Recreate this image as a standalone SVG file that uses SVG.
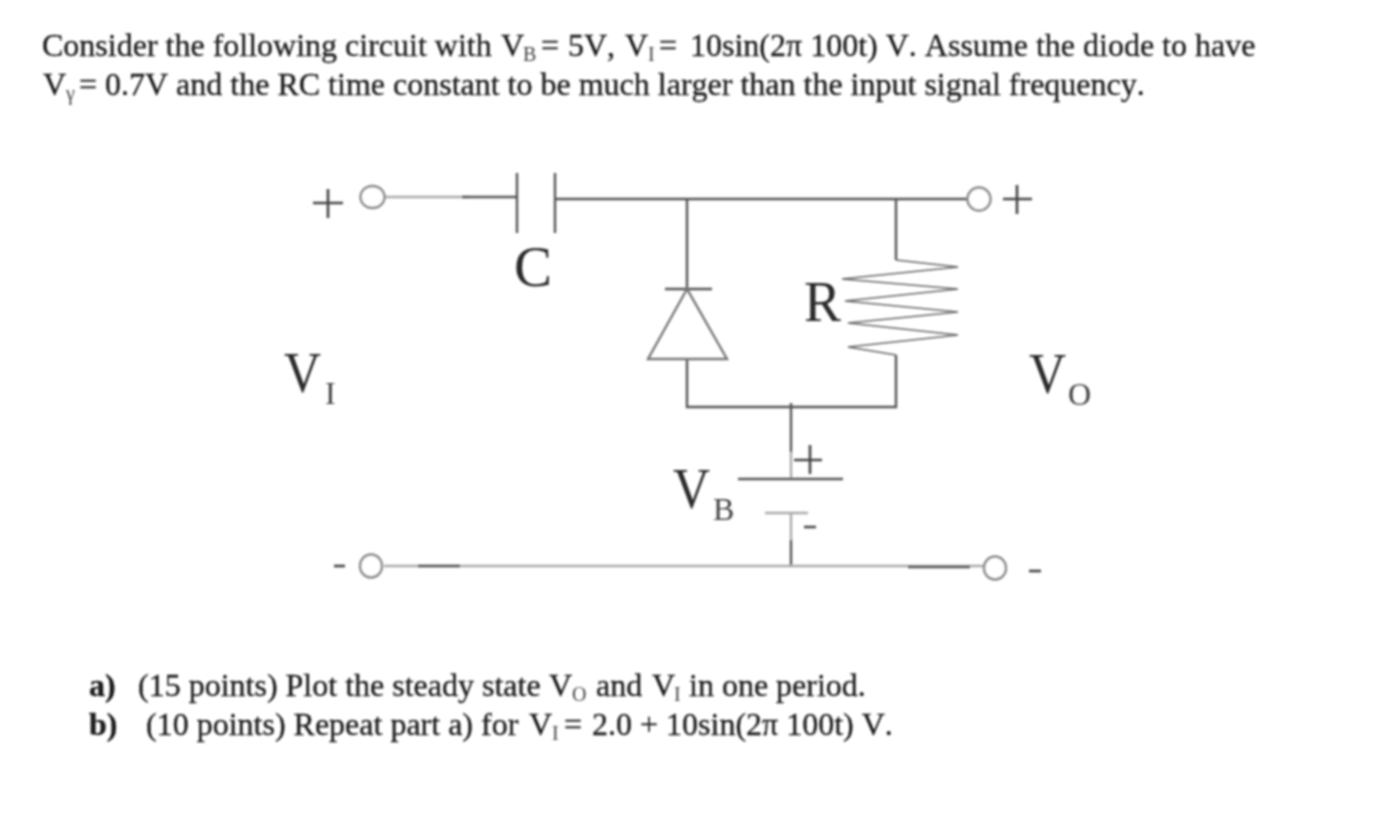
<svg xmlns="http://www.w3.org/2000/svg" width="1378" height="828" viewBox="0 0 1378 828">
<style>
text{font-family:"Liberation Serif","Times New Roman",serif;fill:#1a1a1a;font-kerning:none}
.t{font-size:32px;stroke:#1a1a1a;stroke-width:.3}
.s{font-size:20px;stroke:none;fill:#444}
.b{font-weight:bold}
.l{font-size:56px;fill:#2a2a2a}
.ls{font-size:32px;fill:#444}
.w{fill:none;stroke:#555;stroke-width:2.4}
.lt{fill:none;stroke:#aaa;stroke-width:2.4}
.o{fill:#fff;stroke:#888;stroke-width:2.4}
.z{fill:none;stroke:#666;stroke-width:1.6}
.k{fill:none;stroke:#444;stroke-width:2.6}
</style>
<defs><filter id="bl" x="-5%" y="-5%" width="110%" height="110%"><feGaussianBlur stdDeviation="0.8"/></filter></defs>
<rect width="1378" height="828" fill="#fff"/>
<g filter="url(#bl)">
<g id="question">
<text class="t" y="56"><tspan x="42">Consider the following circuit with</tspan><tspan x="501">V</tspan><tspan class="s" x="523" y="61">B</tspan><tspan x="541" y="56">=</tspan><tspan x="568">5V,</tspan><tspan x="625">V</tspan><tspan class="s" x="648" y="61">I</tspan><tspan x="659" y="56">=</tspan><tspan x="690">10sin(2π 100t) V. Assume the diode to have</tspan></text>
<text class="t" y="95"><tspan x="43">V</tspan><tspan class="s" x="66" y="100">γ</tspan><tspan x="79" y="95">=</tspan><tspan x="105">0.7V and the RC time constant to be much larger than the input signal frequency.</tspan></text>
</g>
<g id="connectors">
<path class="lt" d="M384 197H470"/>
<path class="w" d="M462 197H517M555 199H968M687 199V289M687 359V407H896V355M896 199V260M791 403V452"/>
<path class="lt" d="M791 452V479M791 513V540"/>
<path class="w" d="M791 540V566"/>
<path class="lt" d="M384 566H985"/>
<path class="w" d="M418 566H460M908 567H970"/>
</g>
<g id="terminal-in-plus"><ellipse class="o" cx="372.500" cy="197" rx="12" ry="11"/><path class="k" d="M313 203H343M328 189V218"/></g>
<g id="terminal-out-plus"><circle class="o" cx="979" cy="199" r="11.500"/><path class="k" d="M1003 199H1032M1017 185V214"/></g>
<g id="terminal-in-minus"><ellipse class="o" cx="371" cy="566" rx="11" ry="11.500"/><path class="k" d="M334 566H345"/></g>
<g id="terminal-out-minus"><ellipse class="o" cx="995" cy="568" rx="11" ry="11.500"/><path class="k" d="M1029 571H1041"/></g>
<g id="capacitor"><path class="w" d="M517 173V233M555 173V233"/><text class="l" x="514" y="286" textLength="38" lengthAdjust="spacingAndGlyphs">C</text></g>
<g id="diode"><path class="w" d="M665 289H712"/><path class="w" d="M687 289L648 359H727Z" style="stroke:#777"/></g>
<g id="resistor"><path class="z" d="M896 260L958 267L842 279L958 289L845 301L958 312L848 323L958 335L848 347L896 355"/><text class="l" x="804" y="321" textLength="37" lengthAdjust="spacingAndGlyphs">R</text></g>
<g id="battery"><path class="w" d="M738 479H843"/><path class="lt" d="M765 513H808"/><path class="k" d="M794 460H822M810 445V474M804 527H816"/></g>
<g id="labels">
<text class="l" x="284" y="392" textLength="37" lengthAdjust="spacingAndGlyphs">V</text><text class="ls" x="325" y="404">I</text>
<text class="l" x="1029" y="393" textLength="37" lengthAdjust="spacingAndGlyphs">V</text><text class="ls" x="1068" y="405">O</text>
<text class="l" x="673" y="508" textLength="37" lengthAdjust="spacingAndGlyphs">V</text><text class="ls" x="713" y="520">B</text>
</g>
<g id="parts">
<text class="t b" x="89" y="696">a)</text>
<text class="t" y="696"><tspan x="138">(15 points) Plot the steady state</tspan><tspan x="549">V</tspan><tspan class="s" x="572" y="701">O</tspan><tspan x="596" y="696">and</tspan><tspan x="652">V</tspan><tspan class="s" x="674" y="701">I</tspan><tspan x="689" y="696">in one period.</tspan></text>
<text class="t b" x="89" y="735">b)</text>
<text class="t" y="735"><tspan x="146">(10 points) Repeat part a) for</tspan><tspan x="529">V</tspan><tspan class="s" x="552" y="740">I</tspan><tspan x="564" y="735">=</tspan><tspan x="592">2.0 + 10sin(2π 100t) V.</tspan></text>
</g>
</g>
</svg>
